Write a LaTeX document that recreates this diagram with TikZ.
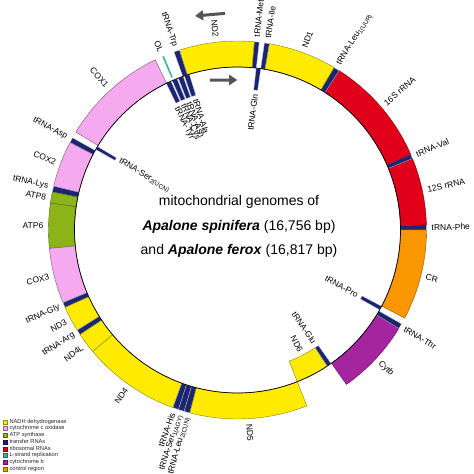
\documentclass[tikz,border=0pt]{standalone}
\usepackage{fontspec}
\setmainfont{Liberation Sans}
\usetikzlibrary{arrows.meta,positioning}
\definecolor{nadhc}{HTML}{FFEB00}
\definecolor{coxc}{HTML}{F5AAF0}
\definecolor{atpc}{HTML}{8CB418}
\definecolor{trnac}{HTML}{1C2670}
\definecolor{rrnac}{HTML}{E10019}
\definecolor{olc}{HTML}{3CB4A5}
\definecolor{cytc}{HTML}{A5259F}
\definecolor{crc}{HTML}{FA9600}
\definecolor{arrowc}{HTML}{555555}
\newcommand{\trsub}[1]{\raisebox{-.35ex}{\fontsize{6.3}{6.3}\selectfont #1}}

\begin{document}
\begin{tikzpicture}[x=1pt,y=1pt,
  font=\fontsize{8.5}{9}\selectfont,
  nadh/.style={fill=nadhc,draw=nadhc!55!black,line width=.4pt},
  cox/.style={fill=coxc,draw=coxc!50!black,line width=.4pt},
  atp/.style={fill=atpc,draw=atpc!55!black,line width=.4pt},
  trna/.style={fill=trnac,draw=trnac!25,line width=.3pt},
  rrna/.style={fill=rrnac,draw=rrnac!55!black,line width=.4pt},
  cytb/.style={fill=cytc,draw=cytc!55!black,line width=.4pt},
  cr/.style={fill=crc,draw=crc!55!black,line width=.4pt},
  lab/.style={inner sep=0pt},
  dirarr/.style={-{Triangle[length=8pt,width=10pt]},line width=3pt,arrowc},
  legbox/.style={minimum size=4pt,inner sep=0pt,draw=#1!60!black,fill=#1,line width=.3pt},
  legtext/.style={inner sep=0pt,font=\fontsize{5.7}{6}\selectfont,black!85},
  title/.style={anchor=base,font=\fontsize{14}{16}\selectfont}]

\useasboundingbox (-237.5,-244) rectangle (236.5,230);

% heavy strand genes, outside the circle
\foreach \a/\b/\s in {0/1.6/trna,1.6/22.2/rrna,22.2/23.6/trna,23.6/57.5/rrna,
    57.5/59.3/trna,59.3/80.3/nadh,80.3/81.8/trna,83.4/84.9/trna,84.9/107.9/nadh,
    107.9/109.6/trna,115.8/148.8/cox,150.8/152.4/trna,152.4/166.6/cox,
    166.6/168.4/trna,168.4/171.8/atp,171.8/185.6/atp,185.6/202.6/cox,
    202.6/204.2/trna,204.2/212.0/nadh,212.0/213.6/trna,213.6/220.0/nadh,
    220.0/250.0/nadh,250.0/251.8/trna,251.8/253.6/trna,253.6/255.4/trna,
    255.4/291.5/nadh,305.2/328.6/cytb,328.6/330.2/trna,332.2/360/cr}
  \draw[\s] (\a:163) arc[start angle=\a,end angle=\b,radius=163]
    -- (\b:189) arc[start angle=\b,end angle=\a,radius=189] -- cycle;

% light strand genes, inside the circle
\foreach \a/\b/\s in {81.8/83.4/trna,107.2/109.0/trna,109.5/111.3/trna,
    111.8/113.6/trna,114.1/115.9/trna,149.2/150.4/trna,291.5/303.4/nadh,
    303.4/305.0/trna,330.7/332.1/trna}
  \draw[\s] (\a:141) arc[start angle=\a,end angle=\b,radius=141]
    -- (\b:163) arc[start angle=\b,end angle=\a,radius=163] -- cycle;

\draw[olc,line width=1.6pt] (113.2:166) -- (113.2:189);
\draw[black,line width=.7pt] (0,0) circle[radius=163];

% labels
\foreach \a/\t/\n in {0.8/tRNA-Phe/lPhe,12/12S rRNA/lSSU,22.9/tRNA-Val/lVal,
    40.5/16S rRNA/lLSU,58.4/tRNA-Leu\trsub{1(UUR)}/lLeuA,69.8/ND1/lNDa,
    81/tRNA-Ile/lIle,84.2/tRNA-Met/lMet,273.5/ND5/lNDe,317/Cytb/lCytb,
    329.4/tRNA-Thr/lThr,346/CR/lCR}
  \node[lab,anchor=west,rotate=\a] (\n) at (\a:194) {\t};
\foreach \a/\t/\n in {96.4/ND2/lNDb,108.8/tRNA-Trp/lTrp,113.2/OL/lOL,
    132.2/COX1/lCoxa,151.5/tRNA-Asp/lAsp,159.5/COX2/lCoxb,167.1/tRNA-Lys/lLys,
    170.3/ATP8/lAtpe,178.7/ATP6/lAtps,194/COX3/lCoxc,203.4/tRNA-Gly/lGly,
    208.1/ND3/lNDc,212.6/tRNA-Arg/lArg,217.0/ND4L/lNDl,235/ND4/lNDd,
    250.5/tRNA-His/lHis,252.7/tRNA-Ser\trsub{1(AGY)}/lSerA,
    254.9/tRNA-Leu\trsub{2(CUN)}/lLeuB}
  \node[lab,anchor=east,rotate=\a-180] (\n) at (\a:194) {\t};
\foreach \a/\t/\n in {82.6/tRNA-Gln/lGln,297.5/ND6/lNDf,304.2/tRNA-Glu/lGlu,
    331.4/tRNA-Pro/lPro}
  \node[lab,anchor=east,rotate=\a] (\n) at (\a:137) {\t};
\foreach \a/\t/\n in {107.8/tRNA-Ala/lAla,110.7/tRNA-Asn/lAsn,
    113.6/tRNA-Cys/lCys,116.5/tRNA-Tyr/lTyr,149.8/tRNA-Ser\trsub{2(UCN)}/lSerB}
  \node[lab,anchor=west,rotate=\a-180] (\n) at (\a:137) {\t};

% strand direction
\coordinate (hS) at (93.3:217);
\coordinate (hE) at (101.2:218.2);
\coordinate (lS) at (100.4:152.5);
\coordinate (lE) at (90.1:150);
\draw[dirarr] (hS) -- (hE);
\draw[dirarr] (lS) -- (lE);

\node[title] (mito) at (1.5,25) {mitochondrial genomes of};
\node[title] (spin) at (1.5,0) {\textbf{\textit{Apalone spinifera}} (16,756 bp)};
\node[title] (ferox) at (1.5,-24) {and \textbf{\textit{Apalone ferox}} (16,817 bp)};

% legend
\foreach \c/\t [count=\i] in {nadhc/NADH dehydrogenase,coxc/cytochrome c oxidase,
    atpc/ATP synthase,trnac/transfer RNAs,rrnac/ribosomal RNAs,
    olc/L-strand replication,cytc/cytochrome b,crc/control region}{
  \node[legbox=\c] (leg\i) at (-232.8,{-191.7-6.75*(\i-1)}) {};
  \node[legtext,right=2.5pt of leg\i] (legt\i) {\t};
}
\end{tikzpicture}
\end{document}
